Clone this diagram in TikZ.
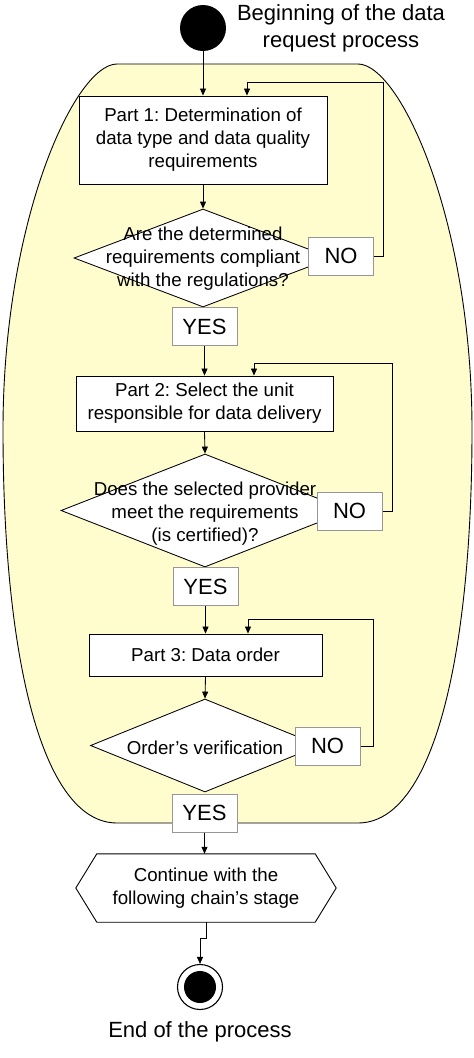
\documentclass[tikz,border=0pt]{standalone}
\usepackage{fontspec}
\setmainfont{Liberation Sans}
\usetikzlibrary{arrows.meta,shapes.geometric}
\definecolor{pale}{RGB}{255,253,206}
\definecolor{lblgray}{RGB}{150,150,150}
\newcommand\fsmain{\fontsize{18.7pt}{23pt}\selectfont}
\newcommand\fsbig{\fontsize{22pt}{27pt}\selectfont}
\frenchspacing
\begin{document}
\frenchspacing
\begin{tikzpicture}[x=1pt,y=-1pt,
  conn/.style={draw=black, line width=0.85pt, -{Triangle[length=7pt,width=6pt]}},
  stepbox/.style={draw=black, line width=0.9pt, fill=white, inner sep=0pt, align=center, font=\fsmain},
  decision/.style={diamond, draw=black, line width=0.85pt, fill=white, inner sep=0pt},
  dtext/.style={align=center, font=\fsmain, inner sep=0pt},
  lbl/.style={draw=lblgray, line width=1pt, fill=white, minimum width=65pt, minimum height=38pt, inner sep=0pt, font=\fsbig},
  startdot/.style={circle, fill=black, minimum size=46pt, inner sep=0pt}]
\useasboundingbox (0,0) rectangle (474,1058);
% container
\path[draw=black, line width=0.9pt, fill=pale] (117,64) -- (358,64)
  .. controls (400,64) and (472,220) .. (472,430)
  .. controls (472,650) and (435,823) .. (358,823) -- (117,823)
  .. controls (40,823) and (3,650) .. (3,430)
  .. controls (3,220) and (75,64) .. (117,64) -- cycle;
% start
\node[startdot] (start) at (203,28) {};
\node[align=center, font=\fsbig, inner sep=0pt] (begin) at (341,28.5) {Beginning of the data\\request process};
% part 1
\node[stepbox, minimum width=248pt, minimum height=88pt] (b1) at (203,140) {Part 1: Determination of\\data type and data quality\\requirements};
\node[decision, minimum width=258pt, minimum height=98pt] (d1) at (203,258) {};
\node[dtext] (t1) at (203,259) {Are the determined\\requirements compliant\\with the regulations?};
\node[lbl] (no1) at (341,256) {NO};
\node[lbl] (yes1) at (204.5,326.5) {YES};
% part 2
\node[stepbox, minimum width=257pt, minimum height=55pt] (b2) at (204.5,403.5) {Part 2: Select the unit\\responsible for data delivery};
\node[decision, minimum width=288pt, minimum height=113pt] (d2) at (205,510.5) {};
\node[dtext] (t2) at (205,514) {Does the selected provider\\meet the requirements\\(is certified)?};
\node[lbl] (no2) at (349.5,511) {NO};
\node[lbl] (yes2) at (205.5,586.5) {YES};
% part 3
\node[stepbox, minimum width=233pt, minimum height=42pt] (b3) at (205.5,655) {Part 3: Data order};
\node[decision, minimum width=229pt, minimum height=93pt] (d3) at (205,745.5) {};
\node[dtext] (t3) at (205,748) {Order’s verification};
\node[lbl] (no3) at (327.5,746) {NO};
\node[lbl] (yes3) at (204.5,813) {YES};
% continue hexagon
\node[align=center, font=\fsmain, minimum width=260pt, minimum height=68pt, inner sep=0pt] (hx) at (206,888) {Continue with the\\following chain’s stage};
\draw[line width=0.9pt] ([xshift=21pt]hx.north west) -- ([xshift=-21pt]hx.north east) -- (hx.east)
  -- ([xshift=-21pt]hx.south east) -- ([xshift=21pt]hx.south west) -- (hx.west) -- cycle;
% end
\node[circle, draw=black, line width=1.1pt, minimum size=45pt, inner sep=0pt] (end) at (200,987) {};
\fill[black] (end.center) circle[radius=16pt];
\node[font=\fsbig, inner sep=0pt] (endtxt) at (200,1032) {End of the process};
% loop coordinates
\coordinate (l1a) at (383,82);
\coordinate (l1b) at (247,82);
\coordinate (l2a) at (392,363);
\coordinate (l2b) at (254,363);
\coordinate (l3a) at (373,619);
\coordinate (l3b) at (248,619);
\coordinate (hxdrop) at (206,938);
% connectors
\draw[conn] (start.south) -- (b1.north);
\draw[conn] (b1.south) -- (d1.north);
\draw[conn] (no1.east) -| (l1a) -- (l1b) -- (l1b |- b1.north);
\draw[conn] (yes1.south) -- (yes1.south |- b2.north);
\draw[conn] (b2.south) -- (d2.north);
\draw[conn] (no2.east) -| (l2a) -- (l2b) -- (l2b |- b2.north);
\draw[conn] (yes2.south) -- (yes2.south |- b3.north);
\draw[conn] (b3.south) -- (d3.north);
\draw[conn] (no3.east) -| (l3a) -- (l3b) -- (l3b |- b3.north);
\draw[conn] (yes3.south) -- (yes3.south |- hx.north);
\draw[conn] (hx.south) -- (hxdrop) -| (end.north);
\end{tikzpicture}
\end{document}
